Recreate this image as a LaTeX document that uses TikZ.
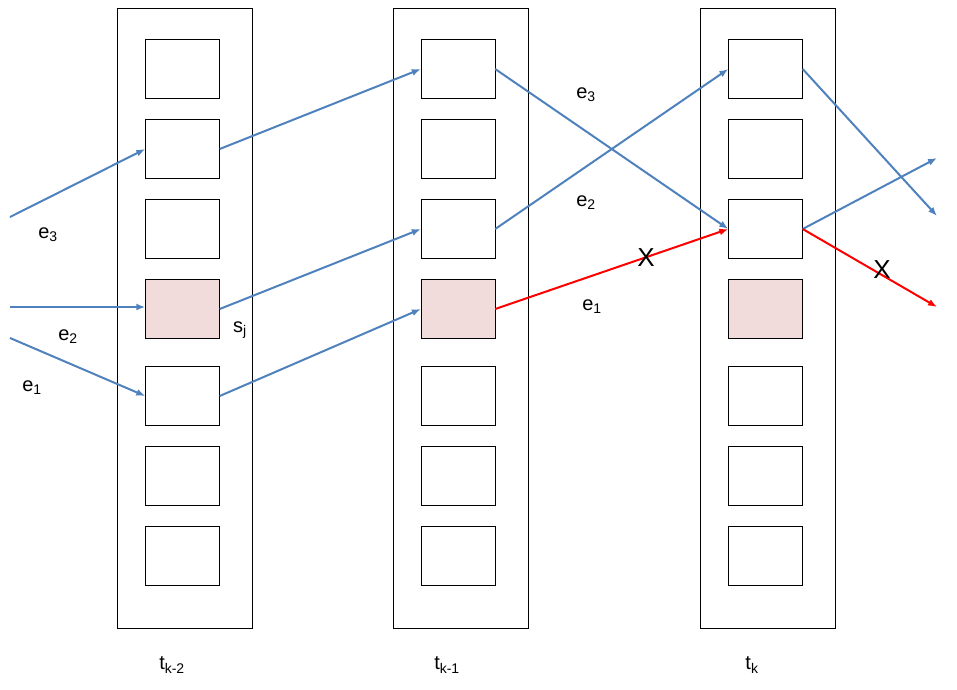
\documentclass[tikz,border=0pt]{standalone}
\usepackage{fontspec}
\setmainfont{Liberation Sans}
\usetikzlibrary{positioning,arrows.meta}
\definecolor{edgeblue}{HTML}{4F81BD}
\definecolor{statepink}{HTML}{F2DCDB}
\tikzset{
  slot/.style={draw, minimum width=74pt, minimum height=59pt, inner sep=0pt},
  picked/.style={slot, fill=statepink},
  frame/.style={draw, minimum width=135pt, minimum height=620pt, inner sep=0pt},
  hop/.style={draw=edgeblue, line width=2pt, -{Latex[length=9pt,width=7pt]}},
  bad/.style={draw=red, line width=2pt, -{Latex[length=9pt,width=7pt]}},
  lbl/.style={font=\fontsize{20}{24}\selectfont}
}
\begin{document}
\begin{tikzpicture}[x=1pt,y=-1pt]
  \useasboundingbox (0,0) rectangle (957,689);

  % Frames
  \node[frame] (f1) at (184.5,318) {};
  \node[frame] (f2) at (461,318) {};
  \node[frame] (f3) at (768,318) {};

  % Slots
  \foreach \c/\x in {1/182.5,2/458,3/765.5}{
    \foreach \r/\y in {1/69,2/149,3/229,5/396,6/476,7/556}{
      \node[slot] (s\c\r) at (\x,\y) {};
    }
    \node[picked] (s\c4) at (\x,309) {};
  }

  % Free ends
  \coordinate (in3) at (10,217);
  \coordinate (in2) at (10,307);
  \coordinate (in1) at (10,338);
  \coordinate (out1) at (937,216);
  \coordinate (out2) at (937,158);
  \coordinate (out3) at (937,307);

  % Edges
  \draw[hop] (in3) -- (s12.west);
  \draw[hop] (in2) -- (s14.west |- in2);
  \draw[hop] (in1) -- (s15.west);
  \draw[hop] (s12.east) -- (s21.west);
  \draw[hop] (s14.east) -- (s23.west);
  \draw[hop] (s15.east) -- (s24.west);
  \draw[hop] (s21.east) -- (s33.west);
  \draw[hop] (s23.east) -- (s31.west);
  \draw[bad] (s24.east) -- (s33.west);
  \draw[hop] (s31.east) -- (out1);
  \draw[hop] (s33.east) -- (out2);
  \draw[bad] (s33.east) -- (out3);

  % Labels
  \node[lbl] (le3a) at (48,235) {e\textsubscript{3}};
  \node[lbl] (le2a) at (68,337) {e\textsubscript{2}};
  \node[lbl] (le1a) at (32,388) {e\textsubscript{1}};
  \node[lbl] (lsj) at (240,330) {s\textsubscript{j}};
  \node[lbl] (le3b) at (586,95) {e\textsubscript{3}};
  \node[lbl] (le2b) at (586,203) {e\textsubscript{2}};
  \node[lbl] (le1b) at (592,307) {e\textsubscript{1}};
  \node[lbl, font=\fontsize{26}{30}\selectfont] (xa) at (646,258) {X};
  \node[lbl, font=\fontsize{26}{30}\selectfont] (xb) at (882,270) {X};
  \node[lbl] (t1) at (172,665) {t\textsubscript{k-2}};
  \node[lbl] (t2) at (447,665) {t\textsubscript{k-1}};
  \node[lbl] (t3) at (752,665) {t\textsubscript{k}};
\end{tikzpicture}
\end{document}
